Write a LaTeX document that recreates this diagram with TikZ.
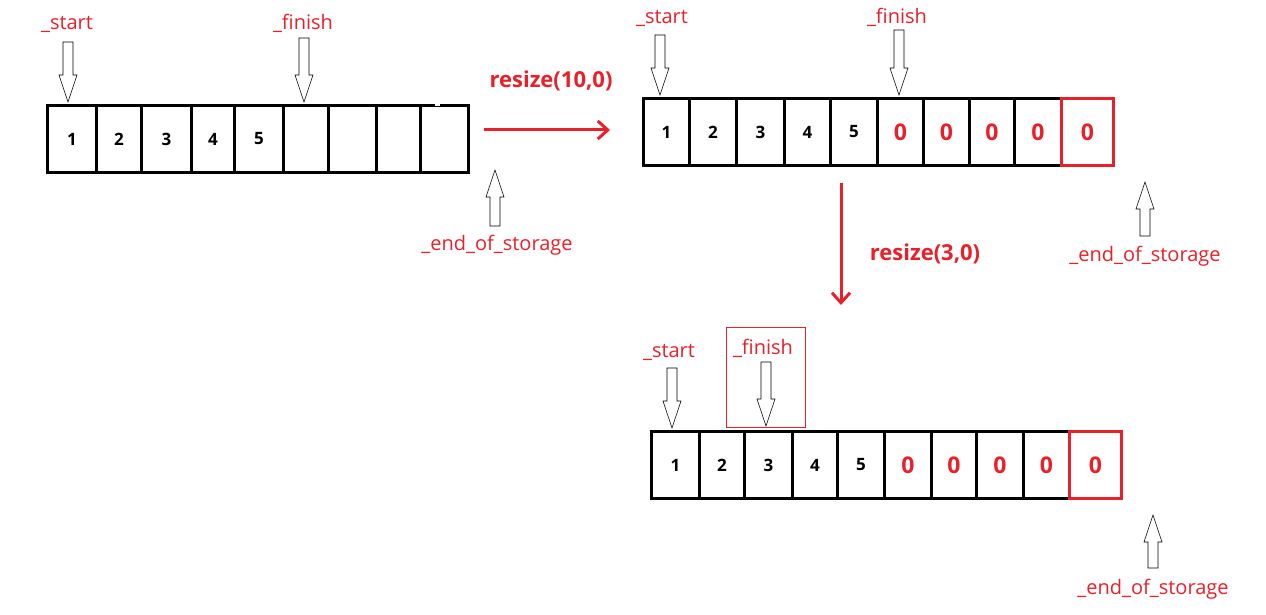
\documentclass[tikz,border=0pt]{standalone}
\usepackage{fontspec}
\setmainfont{Open Sans}
\usetikzlibrary{arrows.meta}
\begin{document}
\definecolor{rd}{HTML}{E8202A}
\begin{tikzpicture}[x=1pt,y=-1pt,
  cell/.style={draw=black,line width=3pt,minimum height=67pt,inner sep=0pt,font=\bfseries\fontsize{17}{19}\selectfont},
  zero/.style={text=rd,font=\bfseries\fontsize{23}{25}\selectfont},
  lbl/.style={text=rd,font=\fontsize{20}{23}\selectfont,inner sep=0pt},
  op/.style={text=rd,font=\bfseries\fontsize{22}{25}\selectfont,inner sep=0pt},
  hollow/.style={draw=black,fill=white,line width=0.6pt},
  redarrow/.style={draw=rd,line width=3pt,-{Straight Barb[length=10pt,width=18pt]}}]
\useasboundingbox (0,0) rectangle (1266,615);
\newcommand{\hdown}[3]{\draw[hollow] (#1-5,#2) -- (#1+5,#2) -- (#1+5,#3-27) -- (#1+9,#3-27) -- (#1,#3) -- (#1-9,#3-27) -- (#1-5,#3-27) -- cycle;}
\newcommand{\hup}[3]{\draw[hollow] (#1-5,#3) -- (#1+5,#3) -- (#1+5,#2+27) -- (#1+9,#2+27) -- (#1,#2) -- (#1-9,#2+27) -- (#1-5,#2+27) -- cycle;}
% array 1
\foreach \a/\b/\t [count=\i] in {46/95/1,95/140/2,140/190/3,190/233/4,233/282/5,282/327/{},327/375/{},375/419/{},419/467/{}}
  \node[cell,minimum width={\b-\a},anchor=north west] (a\i) at (\a,104) {\t};
\draw[white,line width=3.5pt] (435,104) -- (440,104);
\hdown{68}{42}{102}
\hdown{304}{38}{102}
\hup{495}{170}{226}
\node[lbl] (s1) at (67,24) {\_start};
\node[lbl] (f1) at (303,23) {\_finish};
\node[lbl] (e1) at (497,245) {\_end\_of\_storage};
% array 2
\foreach \a/\b/\t [count=\i] in {642/688/1,688/735/2,735/783/3,783/829/4,829/876/5}
  \node[cell,minimum width={\b-\a},anchor=north west] (b\i) at (\a,97) {\t};
\foreach \a/\b [count=\i from 6] in {876/922,922/968,968/1013,1013/1060}
  \node[cell,zero,minimum width={\b-\a},anchor=north west] (b\i) at (\a,97) {0};
\node[cell,zero,draw=rd,minimum width=52pt,anchor=north west] (b10) at (1060,97) {0};
\hdown{660}{35}{95}
\hdown{899}{30}{95}
\hup{1145}{182}{236}
\node[lbl] (s2) at (662,18) {\_start};
\node[lbl] (f2) at (897,17) {\_finish};
\node[lbl] (e2) at (1145,256) {\_end\_of\_storage};
% array 3
\foreach \a/\b/\t [count=\i] in {650/698/1,698/743/2,743/791/3,791/836/4,836/883/5}
  \node[cell,minimum width={\b-\a},anchor=north west] (c\i) at (\a,430) {\t};
\foreach \a/\b [count=\i from 6] in {883/930,930/975,975/1022,1022/1068}
  \node[cell,zero,minimum width={\b-\a},anchor=north west] (c\i) at (\a,430) {0};
\node[cell,zero,draw=rd,minimum width=52pt,anchor=north west] (c10) at (1068,430) {0};
\draw[rd,line width=0.8pt] (726,327) rectangle (805,427);
\hdown{672}{368}{428}
\hdown{766}{362}{426}
\hup{1153}{515}{568}
\node[lbl] (s3) at (669,352) {\_start};
\node[lbl] (f3) at (763,348) {\_finish};
\node[lbl] (e3) at (1153,589) {\_end\_of\_storage};
% operations
\coordinate (r1a) at (484,130); \coordinate (r1b) at (610,130);
\draw[redarrow] (r1a) -- (r1b);
\node[op] (o1) at (551,81) {resize(10,0)};
\coordinate (r2a) at (841,183); \coordinate (r2b) at (841,305);
\draw[redarrow] (r2a) -- (r2b);
\node[op] (o2) at (925,254) {resize(3,0)};
\end{tikzpicture}
\end{document}
